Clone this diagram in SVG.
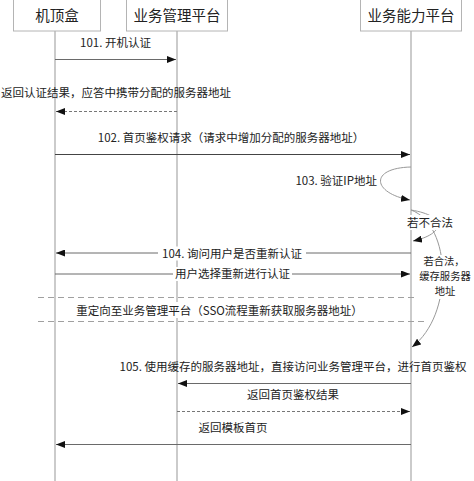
<svg xmlns="http://www.w3.org/2000/svg" width="474" height="481" viewBox="0 0 474 481">
<style>
.box{fill:#fff;stroke:#b4b4b4;stroke-width:1}
.life{stroke:#a8a8a8;stroke-width:1.2;fill:none}
.msg{stroke:#6a6a6a;stroke-width:1;fill:none}
.dash{stroke:#777;stroke-width:1;stroke-dasharray:3,2;fill:none}
.sep{stroke:#a0a0a0;stroke-width:1;stroke-dasharray:6,4;fill:none}
.curve{stroke:#999;stroke-width:1;fill:none}
.bg{fill:#fff}
.t{font-family:"Noto Sans CJK SC","Noto Sans",sans-serif;font-size:11.5px;fill:#222;text-anchor:middle}
.s{font-size:10.3px}
.h{font-family:"Noto Sans CJK SC","Noto Sans",sans-serif;font-size:14.5px;fill:#222;text-anchor:middle}
</style>
<defs>
<marker id="ah" markerUnits="userSpaceOnUse" markerWidth="9" markerHeight="7" refX="9" refY="3.5" orient="auto">
<path d="M0,0 L9,3.5 L0,7 z" fill="#111"/>
</marker>
</defs>
<rect width="474" height="481" fill="#fff"/>
<g id="lifelines">
<line class="life" x1="55" y1="31" x2="55" y2="481"/>
<line class="life" x1="177" y1="31" x2="177" y2="481"/>
<line class="life" x1="411" y1="31" x2="411" y2="481"/>
</g>
<g id="node-stb">
<rect class="box" x="13.5" y="-2" width="87" height="33"/>
<text class="h" x="57" y="20.5">机顶盒</text>
</g>
<g id="node-mgmt">
<rect class="box" x="126.5" y="-2" width="101" height="33"/>
<text class="h" x="177" y="20.5">业务管理平台</text>
</g>
<g id="node-cap">
<rect class="box" x="360.5" y="-2" width="101" height="33"/>
<text class="h" x="411" y="20.5">业务能力平台</text>
</g>
<g id="connectors">
<line class="msg" x1="55" y1="59.5" x2="176" y2="59.5" marker-end="url(#ah)"/>
<line class="dash" x1="177" y1="111.5" x2="56" y2="111.5" marker-end="url(#ah)"/>
<line class="msg" style="stroke:#444" x1="55" y1="154.5" x2="410" y2="154.5" marker-end="url(#ah)"/>
<path class="curve" d="M411,167 C369,168 372,193 410,200" marker-end="url(#ah)"/>
<path class="curve" d="M411,210 C448,216 445,234 413,241" marker-end="url(#ah)"/>
<path class="curve" d="M411,210 C452,225 454,315 412,347" marker-end="url(#ah)"/>
<line class="msg" x1="411" y1="253" x2="56" y2="253" marker-end="url(#ah)"/>
<line class="msg" x1="55" y1="274" x2="410" y2="274" marker-end="url(#ah)"/>
<line class="sep" x1="38" y1="297.5" x2="426" y2="297.5"/>
<line class="sep" x1="38" y1="321.5" x2="426" y2="321.5"/>
<line class="msg" x1="411" y1="383.5" x2="178" y2="383.5" marker-end="url(#ah)"/>
<line class="dash" x1="177" y1="411.5" x2="410" y2="411.5" marker-end="url(#ah)"/>
<line class="msg" x1="411" y1="444.5" x2="56" y2="444.5" marker-end="url(#ah)"/>
</g>
<g id="labels">
<text class="t" x="115.5" y="47">101. 开机认证</text>
<text class="t" x="116" y="97">返回认证结果，应答中携带分配的服务器地址</text>
<text class="t" x="231" y="142">102. 首页鉴权请求（请求中增加分配的服务器地址）</text>
<text class="t" x="377" y="185" style="text-anchor:end">103. 验证IP地址</text>
<rect class="bg" x="406" y="215" width="48" height="15"/>
<text class="t" x="430" y="227">若不合法</text>
<rect class="bg" x="417" y="255" width="56" height="44"/>
<text class="t s" x="444" y="265">若合法，</text>
<text class="t s" x="445" y="280">缓存服务器</text>
<text class="t s" x="445" y="295">地址</text>
<rect class="bg" x="158" y="246.5" width="148" height="14"/>
<text class="t" x="232" y="257.5">104. 询问用户是否重新认证</text>
<rect class="bg" x="173" y="267" width="119" height="14"/>
<text class="t" x="232.5" y="278">用户选择重新进行认证</text>
<rect class="bg" x="76" y="302" width="287" height="16"/>
<text class="t" x="219.5" y="315">重定向至业务管理平台（SSO流程重新获取服务器地址）</text>
<text class="t" x="293" y="371">105. 使用缓存的服务器地址，直接访问业务管理平台，进行首页鉴权</text>
<text class="t" x="293" y="399">返回首页鉴权结果</text>
<text class="t" x="233" y="431.5">返回模板首页</text>
</g>
</svg>
